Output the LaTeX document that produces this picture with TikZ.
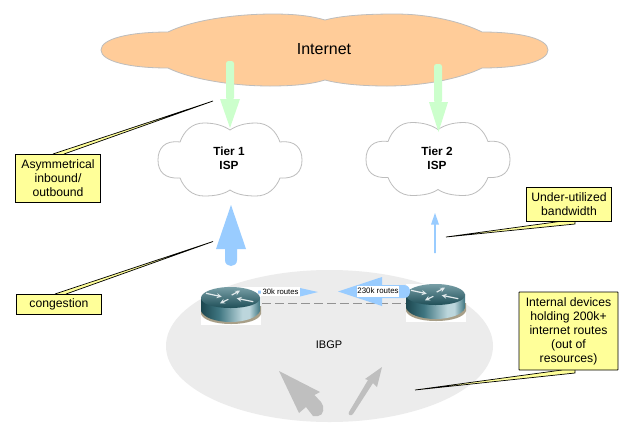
\documentclass[tikz,border=0pt]{standalone}
\usepackage{fontspec}
\setmainfont{Liberation Sans}
\usetikzlibrary{calc}
\definecolor{cloudorange}{HTML}{FFCC99}
\definecolor{cloudedge}{HTML}{BDBDBD}
\definecolor{notefill}{HTML}{FFFF99}
\definecolor{flowgreen}{HTML}{CCFFCC}
\definecolor{flowblue}{HTML}{99CCFF}
\definecolor{iarea}{HTML}{ECECEC}
\definecolor{igrey}{HTML}{BFBFBF}
\definecolor{rtop}{HTML}{3E7580}
\definecolor{rdark}{HTML}{1F4F58}
\definecolor{rlight}{HTML}{BCD6DC}
\definecolor{rbase}{HTML}{A89F88}
\pgfdeclarehorizontalshading{routerside}{100bp}{
  color(0bp)=(rdark!90!black); color(25bp)=(rdark!90!black); color(40bp)=(rtop); color(60bp)=(rlight); color(66bp)=(rlight); color(75bp)=(rtop); color(100bp)=(rdark)}
\tikzset{
  x=1pt,y=-1pt,
  notebox/.style={draw=black,fill=notefill,line width=0.9pt,align=center,inner sep=0pt,font=\fontsize{12.2}{14}\selectfont},
  wedge/.style={fill=notefill},
  wedgeline/.style={draw=black,line width=0.7pt},
  routerlabel/.style={fill=white,inner sep=0pt,text height=6pt,text depth=1pt},
  cloudtext/.style={align=center,font=\bfseries\fontsize{11.8}{14}\selectfont},
  ispcloud/.pic={
    \draw[cloudedge,fill=white,line width=0.8pt]
      (0,-30) .. controls (-6,-34) and (-14,-37) .. (-26,-37)
      .. controls (-38,-37) and (-46,-29) .. (-50,-18)
      .. controls (-65,-20) and (-72,-12) .. (-72,0)
      .. controls (-72,12) and (-65,19) .. (-50,18)
      .. controls (-46,28) and (-38,36) .. (-26,36)
      .. controls (-14,36) and (-6,34) .. (0,30)
      .. controls (6,34) and (14,36) .. (26,36)
      .. controls (38,36) and (46,28) .. (50,18)
      .. controls (65,19) and (72,12) .. (72,0)
      .. controls (72,-12) and (65,-20) .. (50,-18)
      .. controls (46,-29) and (38,-37) .. (26,-37)
      .. controls (14,-37) and (6,-34) .. (0,-30) -- cycle;
  },
  routerpic/.pic={
    \fill[white] (0,-10) rectangle (60,28);
    \fill[rbase] (0,9) -- (0,17) .. controls (2,23) and (14,27) .. (30,27) .. controls (46,27) and (58,23) .. (60,17) -- (60,9) -- cycle;
    \shade[shading=routerside]
      (0,0) -- (0,14) .. controls (2,20) and (14,25) .. (29.5,25) .. controls (45,25) and (57,20) .. (59,14) -- (59,0) -- cycle;
    \shade[top color=rtop!70!white,bottom color=rdark]
      (29.5,-10) .. controls (46,-10) and (59,-5) .. (59,1) .. controls (59,7) and (46,11) .. (29.5,11)
      .. controls (13,11) and (0,7) .. (0,1) .. controls (0,-5) and (13,-10) .. (29.5,-10) -- cycle;
    \begin{scope}[white!85!rtop,line width=1.2pt,>=stealth]
      \draw[->] (5,-3.7) -- (20.7,-0.3);
      \draw[->] (30.7,-2) -- (39,-6.3);
      \draw[<-] (35.7,1.3) -- (52.3,4.7);
      \draw[<-] (19,6.3) -- (27.3,2.3);
    \end{scope}
  }
}
\begin{document}
\begin{tikzpicture}
\useasboundingbox (0,0) rectangle (634,437);
\fill[white] (0,0) rectangle (634,437);

% Internet cloud
\draw[cloudedge,fill=cloudorange,line width=0.8pt]
  (101,50) .. controls (101,39) and (128,32) .. (168,32)
  .. controls (190,21) and (232,14) .. (273,14)
  .. controls (295,14) and (312,16) .. (325,20)
  .. controls (340,16) and (362,14) .. (395,14)
  .. controls (430,14) and (462,22) .. (482,32)
  .. controls (522,32) and (548,39) .. (548,50)
  .. controls (548,61) and (522,68) .. (482,68)
  .. controls (462,78) and (425,86) .. (387,86)
  .. controls (362,86) and (340,84) .. (325,80)
  .. controls (312,84) and (295,86) .. (270,86)
  .. controls (232,86) and (190,79) .. (168,68)
  .. controls (128,68) and (101,61) .. (101,50) -- cycle;
\node[font=\fontsize{16}{18}\selectfont] (internet) at (324,49) {Internet};

% ISP clouds
\pic at (230,160) {ispcloud};
\pic at (438,159.5) {ispcloud};
\node[cloudtext] (tier1) at (229,158.5) {Tier 1\\ISP};
\node[cloudtext] (tier2) at (437,158) {Tier 2\\ISP};

% IBGP area
\fill[iarea] (329.5,346) ellipse [x radius=163.5,y radius=76];
\node[font=\fontsize{11}{13}\selectfont] (ibgp) at (329,345) {IBGP};

% Green and blue flows
\fill[flowgreen,rounded corners=2.5pt] (226,61) -- (234,61) -- (234,100) -- (226,100) -- cycle;
\fill[flowgreen] (220,99) -- (240,99) -- (230,128) -- cycle;
\fill[flowgreen,rounded corners=2.5pt] (434,64) -- (442,64) -- (442,103) -- (434,103) -- cycle;
\fill[flowgreen] (429,102) -- (448,102) -- (438.5,132) -- cycle;
\fill[flowblue] (231,205) -- (246,249) -- (237,249) -- (237,260)
  .. controls (237,268) and (225,268) .. (225,260) -- (225,249) -- (216,249) -- cycle;
\fill[flowblue] (435,213) -- (439,224.5) -- (435.9,224.5) -- (435.9,253) -- (434.1,253) -- (434.1,224.5) -- (431,224.5) -- cycle;

% Internal grey arrows
\fill[igrey] (279,371) -- (320,392) -- (314.5,395) -- (321,402)
  .. controls (325,406) and (324,416) .. (318,416) -- (313,416) -- (306,407) -- (299,413) -- cycle;
\fill[igrey] (382,367) -- (377,387) -- (373,383) -- (353,414) .. controls (351,416.5) and (347.5,415) .. (349,412) -- (368,380) -- (365,379) -- cycle;

% Routers and link
\pic at (201,297) {routerpic};
\pic at (406,294) {routerpic};
\coordinate (ra) at (262,303);
\coordinate (rb) at (406,303);
\draw[gray!85,line width=0.8pt,dash pattern=on 9pt off 4pt] (ra) -- (rb);

% Route advertisements
\fill[flowblue] (318,292) -- (300,296.5) -- (300,293.5) -- (258,293.5) -- (258,290.5) -- (300,290.5) -- (300,288) -- cycle;
\node[routerlabel,font=\fontsize{7.7}{8}\selectfont,minimum width=39pt,minimum height=9pt] (r30) at (280.5,291.5) {30k routes};
\fill[flowblue] (338,291.5) -- (382,277) -- (382,285) -- (404,285)
  .. controls (412,285) and (412,298) .. (404,298) -- (382,298) -- (382,306) -- cycle;
\node[routerlabel,font=\fontsize{7.9}{8}\selectfont,minimum width=42pt,minimum height=11pt] (r230) at (378,291) {230k routes};

% Callouts
\coordinate (t1) at (213,101);
\coordinate (t2) at (213,241.5);
\coordinate (t3) at (446,237);
\coordinate (t4) at (415,390);
\path[wedge] (53,154) -- (t1) -- (64,154) -- cycle;
\draw[wedgeline] (53,154) -- (t1) -- (64,154);
\path[wedge] (55,294) -- (t2) -- (66,294) -- cycle;
\draw[wedgeline] (55,294) -- (t2) -- (66,294);
\path[wedge] (563,221) -- (t3) -- (575,224) -- (575,221) -- cycle;
\draw[wedgeline] (563,221) -- (t3) -- (575,224) -- (575,221);
\path[wedge] (562,370) -- (t4) -- (575,373) -- (575,370) -- cycle;
\draw[wedgeline] (562,370) -- (t4) -- (575,373) -- (575,370);

\node[notebox,minimum width=85pt,minimum height=48pt] (n1) at (58,178) {Asymmetrical\\inbound/\\outbound};
\node[notebox,minimum width=85pt,minimum height=20pt] (n2) at (59,304) {congestion};
\node[notebox,minimum width=85pt,minimum height=34pt] (n3) at (569,204) {Under-utilized\\bandwidth};
\node[notebox,minimum width=99pt,minimum height=78pt,rounded corners=0.5pt] (n4) at (568.5,331) {Internal devices\\holding 200k+\\internet routes\\(out of\\resources)};
\end{tikzpicture}
\end{document}
